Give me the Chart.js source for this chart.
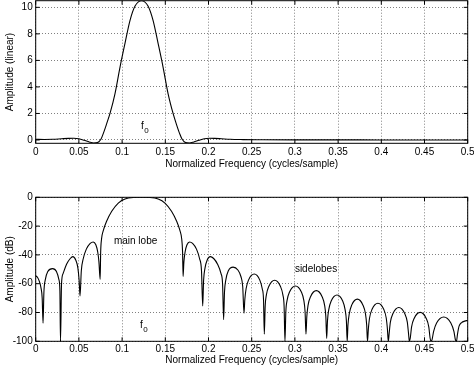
<!DOCTYPE html>
<html>
<head>
<meta charset="utf-8">
<script src="https://cdn.jsdelivr.net/npm/chart.js@4.4.0/dist/chart.umd.min.js"></script>
<style>
  html, body { margin: 0; padding: 0; background: #fff; }
  #wrap { position: relative; width: 474px; height: 366px; overflow: hidden; }
  canvas { position: absolute; left: 0; }
</style>
</head>
<body>
<div id="wrap">
  <canvas id="lin-chart" width="474" height="172" style="top:0px"></canvas>
  <canvas id="db-chart" width="474" height="181" style="top:185px"></canvas>
</div>
<script>
// ticks
const xTicks = [0, 0.05, 0.1, 0.15, 0.2, 0.25, 0.3, 0.35, 0.4, 0.45, 0.5];
const xTickLabels = ['0', '0.05', '0.1', '0.15', '0.2', '0.25', '0.3', '0.35', '0.4', '0.45', '0.5'];
const linTicks = [0, 2, 4, 6, 8, 10];
const linTickLabels = ['0', '2', '4', '6', '8', '10'];
const dbTicks = [-100, -80, -60, -40, -20, 0];
const dbTickLabels = ['-100', '-80', '-60', '-40', '-20', '0'];

// top panel, linear amplitude
const freqLin = [0, 0.01, 0.02, 0.03, 0.038, 0.044, 0.05, 0.056, 0.062, 0.067, 0.0715, 0.0755,
  0.0783, 0.082, 0.086, 0.0918, 0.0976, 0.1034, 0.1091, 0.115, 0.1225, 0.13, 0.1359, 0.1416,
  0.1474, 0.1532, 0.159, 0.1628, 0.1665, 0.1695, 0.1735, 0.178, 0.183, 0.189, 0.195, 0.201,
  0.207, 0.215, 0.225, 0.24, 0.26, 0.3, 0.35, 0.4, 0.45, 0.5];
const ampLin = [0.05, 0.04, 0.05, 0.09, 0.12, 0.13, 0.09, -0.02, -0.15, -0.23, -0.2, 0.05,
  0.5, 1.2, 2.0, 3.5, 5.5, 7.3, 9.0, 10.1, 10.5, 10.1, 9.0, 7.3,
  5.5, 3.5, 2.0, 1.2, 0.5, 0.05, -0.2, -0.23, -0.15, -0.02, 0.09, 0.13,
  0.12, 0.09, 0.05, 0.03, 0.02, 0.01, 0.01, 0, 0, 0];

// bottom panel, amplitude in dB
const freqDb = [0, 0.002, 0.004, 0.006, 0.0075, 0.0085,
  0.0095, 0.011, 0.014, 0.0195, 0.024, 0.0268, 0.028, 0.0287,
  0.0299, 0.0317, 0.0357, 0.04, 0.043, 0.0463, 0.0488, 0.0503, 0.0513,
  0.0528, 0.0551, 0.0586, 0.0631, 0.0666, 0.0696, 0.0718, 0.0732, 0.0746,
  0.0752, 0.0762, 0.0783, 0.0822, 0.088, 0.0956, 0.1034, 0.113, 0.1226,
  0.1322, 0.1418, 0.1496, 0.1572, 0.163, 0.1669, 0.169, 0.17, 0.1706,
  0.1715, 0.1729, 0.1751, 0.1781, 0.1816, 0.1861, 0.1896, 0.1919, 0.1933,
  0.1943, 0.196, 0.1985, 0.202, 0.206, 0.2105, 0.2145, 0.2163, 0.2175,
  0.2185, 0.22, 0.223, 0.2285, 0.234, 0.2375, 0.2396, 0.2411,
  0.242, 0.2435, 0.2463, 0.2529, 0.2594, 0.2622, 0.2637, 0.2646,
  0.2656, 0.267, 0.2699, 0.2766, 0.2832, 0.2861, 0.2875, 0.2885,
  0.2895, 0.2909, 0.2938, 0.3006, 0.3075, 0.3104, 0.3118, 0.3128,
  0.3138, 0.3152, 0.3181, 0.3248, 0.3315, 0.3344, 0.3358, 0.3368,
  0.3377, 0.3392, 0.342, 0.3487, 0.3553, 0.3581, 0.3596, 0.3605,
  0.3614, 0.3629, 0.3657, 0.3723, 0.3788, 0.3817, 0.3831, 0.384,
  0.385, 0.3864, 0.3893, 0.3961, 0.4028, 0.4057, 0.4071, 0.4081,
  0.4091, 0.4105, 0.4135, 0.4203, 0.4271, 0.4301, 0.4315, 0.4325,
  0.4335, 0.435, 0.438, 0.445, 0.452, 0.455, 0.4565, 0.4575,
  0.4587, 0.4605, 0.464, 0.4723, 0.4805, 0.4841, 0.4858, 0.487,
  0.4882, 0.49, 0.493, 0.4965, 0.5];
const ampDb = [-54.5, -55.5, -58, -62.5, -70, -87.5,
  -66, -57.5, -51.5, -49.5, -51.5, -57, -65, -100,
  -60, -53, -46.5, -42.5, -41.2, -43.5, -49, -58, -68.5,
  -51, -42.5, -36, -32, -31, -33, -38, -45, -57,
  -38, -29, -23, -16.5, -9.7, -4.0, -1.2, -0.15, 0,
  -0.15, -1.2, -4.0, -9.7, -16.5, -23, -29, -38, -55,
  -45, -38, -33, -31, -32, -36, -42.5, -51, -75.5,
  -58, -49, -43.5, -41.2, -42.5, -46.5, -53, -60, -85,
  -66, -57.5, -51, -48.5, -50.5, -55, -62, -80.5,
  -71.3, -63.5, -57.5, -53.3, -57.5, -63.5, -71.3, -95,
  -75.6, -67.8, -61.8, -57.6, -61.8, -67.8, -75.6, -100,
  -79.6, -71.8, -65.8, -61.6, -65.8, -71.8, -79.6, -95,
  -82.8, -75, -69, -64.8, -69, -75, -82.8, -98,
  -85.8, -78, -72, -67.8, -72, -78, -85.8, -100,
  -88.7, -80.9, -74.9, -70.7, -74.9, -80.9, -88.7, -100,
  -91.6, -83.8, -77.8, -73.6, -77.8, -83.8, -91.6, -100,
  -94.5, -86.7, -80.7, -76.5, -80.7, -86.7, -94.5, -100,
  -97.9, -90.1, -84.1, -79.9, -84.1, -90.1, -97.9, -100,
  -99, -93.3, -87.3, -83.1, -87.3, -93.3, -99, -100,
  -95, -89.5, -87, -86, -85.5];

const fontFamily = '"Liberation Sans", Arial, Helvetica, sans-serif';
const font = { family: fontFamily, size: 10, lineHeight: 1.2 };

function pairs(xs, ys) {
  return xs.map((x, i) => ({ x: x, y: ys[i] }));
}

function fixTicks(values) {
  return function (scale) {
    scale.ticks = values.map(v => ({ value: v }));
  };
}

// box round the axes, inward ticks on all four sides, text notes
const frame = {
  id: 'frame',
  afterDatasetsDraw(chart, args, opts) {
    const { ctx, chartArea: a, scales } = chart;
    const tl = 4;
    ctx.save();
    ctx.strokeStyle = '#000';
    ctx.lineWidth = 1;
    ctx.strokeRect(a.left, a.top, a.right - a.left, a.bottom - a.top);
    ctx.beginPath();
    scales.x.ticks.forEach(t => {
      const p = scales.x.getPixelForValue(t.value);
      ctx.moveTo(p, a.bottom); ctx.lineTo(p, a.bottom - tl);
      ctx.moveTo(p, a.top); ctx.lineTo(p, a.top + tl);
    });
    scales.y.ticks.forEach(t => {
      const p = scales.y.getPixelForValue(t.value);
      ctx.moveTo(a.left, p); ctx.lineTo(a.left + tl, p);
      ctx.moveTo(a.right, p); ctx.lineTo(a.right - tl, p);
    });
    ctx.stroke();

    ctx.fillStyle = '#000';
    ctx.textBaseline = 'middle';
    ctx.textAlign = 'left';
    (opts.notes || []).forEach(n => {
      const x = scales.x.getPixelForValue(n.x);
      const y = scales.y.getPixelForValue(n.y);
      ctx.font = '10px ' + fontFamily;
      ctx.fillText(n.text, x, y);
      if (n.sub) {
        const w = ctx.measureText(n.text).width;
        ctx.font = '8px ' + fontFamily;
        ctx.fillText(n.sub, x + w + 0.5, y + 4.5);
      }
    });
    ctx.restore();
  }
};

function xScale(height, titlePad, tickPad) {
  return {
    type: 'linear',
    min: 0,
    max: 0.5,
    afterBuildTicks: fixTicks(xTicks),
    afterFit: s => { s.height = height; s.paddingLeft = 0; s.paddingRight = 0; },
    grid: { color: '#808080', lineWidth: 1, drawTicks: false },
    border: { display: false, dash: [1, 2] },
    ticks: { font: font, color: '#000', padding: tickPad, maxRotation: 0, autoSkip: false,
      callback: (v, i) => xTickLabels[i] },
    title: { display: true, text: 'Normalized Frequency (cycles/sample)', font: font, color: '#000',
      padding: { top: 0, bottom: titlePad } }
  };
}

function yScale(min, max, values, labels, title) {
  return {
    min: min,
    max: max,
    afterBuildTicks: fixTicks(values),
    afterFit: s => { s.width = 35.7; s.paddingTop = 0; s.paddingBottom = 0; },
    grid: { color: '#808080', lineWidth: 1, drawTicks: false },
    border: { display: false, dash: [1, 2] },
    ticks: { font: font, color: '#000', padding: 3, autoSkip: false,
      callback: (v, i) => labels[i] },
    title: { display: true, text: title, font: font, color: '#000', padding: { top: 4, bottom: 0 } }
  };
}

const linChart = new Chart(document.getElementById('lin-chart'), {
  type: 'line',
  data: {
    datasets: [{
      data: pairs(freqLin, ampLin),
      borderColor: '#000',
      borderWidth: 1.1,
      pointRadius: 0,
      cubicInterpolationMode: 'monotone',
      fill: false
    }]
  },
  options: {
    responsive: false,
    animation: false,
    layout: { padding: { top: 0.7, right: 6.3, left: 0, bottom: 0 } },
    plugins: {
      legend: { display: false },
      tooltip: { enabled: false },
      frame: { notes: [{ text: 'f', sub: '0', x: 0.1219, y: 1.0 }] }
    },
    scales: {
      x: xScale(28.7, 2, 3),
      y: yScale(-0.25, 10.5, linTicks, linTickLabels, 'Amplitude (linear)')
    }
  },
  plugins: [frame]
});

const dbChart = new Chart(document.getElementById('db-chart'), {
  type: 'line',
  data: {
    datasets: [{
      data: pairs(freqDb, ampDb),
      borderColor: '#000',
      borderWidth: 1.1,
      pointRadius: 0,
      cubicInterpolationMode: 'monotone',
      fill: false
    }]
  },
  options: {
    responsive: false,
    animation: false,
    layout: { padding: { top: 12.3, right: 6.3, left: 0, bottom: 0 } },
    plugins: {
      legend: { display: false },
      tooltip: { enabled: false },
      frame: {
        notes: [
          { text: 'main lobe', x: 0.0905, y: -30.5 },
          { text: 'sidelobes', x: 0.300, y: -49.8 },
          { text: 'f', sub: '0', x: 0.1207, y: -88.7 }
        ]
      }
    },
    scales: {
      x: xScale(24.7, 0, 2),
      y: yScale(-100, 0, dbTicks, dbTickLabels, 'Amplitude (dB)')
    }
  },
  plugins: [frame]
});
</script>
</body>
</html>
